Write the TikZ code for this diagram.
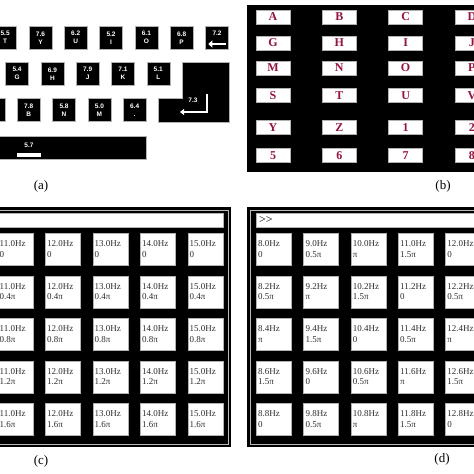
\documentclass[tikz,border=0pt]{standalone}
\usepackage{fontspec}
\setmainfont{Liberation Serif}
\setsansfont{Liberation Sans}
\usetikzlibrary{arrows.meta,positioning}
\definecolor{letterred}{RGB}{150,20,60}
\definecolor{cellink}{RGB}{45,45,45}
\newcommand{\phaselbl}[1]{\ifcase#1 0\or 0.5π\or π\or 1.5π\fi}

\begin{document}
\begin{tikzpicture}[x=1pt, y=-1pt,
    keycap/.style={fill=black, draw=gray!60, line width=0.5pt, minimum width=23pt, minimum height=23pt, inner sep=0pt, anchor=north west, text=white, align=center, font=\sffamily\bfseries\fontsize{6.5}{8}\selectfont},
    keytxt/.style={text=white, inner sep=0pt, font=\sffamily\bfseries\fontsize{6.5}{8}\selectfont},
    lettercell/.style={fill=white, draw=gray!60, line width=0.4pt, minimum width=34pt, minimum height=14pt, inner sep=0pt, text=letterred, font=\bfseries\fontsize{12}{12}\selectfont},
    freqcell/.style={fill=white, draw=gray!60, line width=0.4pt, minimum height=32pt, text width=31pt, inner xsep=2pt, inner ysep=0pt, anchor=north west, align=left, text=cellink, font=\fontsize{9}{10.5}\selectfont},
    panel/.style={fill=black},
    rim/.style={draw=gray!55, line width=0.5pt},
    inbar/.style={fill=white, draw=gray!60, line width=0.4pt, minimum height=14pt, inner sep=0pt, anchor=north west},
    caption/.style={font=\fontsize{13}{13}\selectfont, inner sep=0pt}
]
    \fill[white] (0,0) rectangle (474,474);
    \useasboundingbox (0,0) rectangle (474,474);

    % (a) keyboard
    \foreach \lbl/\ch [count=\i from 0] in {5.5/T,7.6/Y,6.2/U,5.2/I,6.1/O,6.8/P}
        \node[keycap] (k\ch) at (-6.6+35.3*\i,26) {\lbl\\\ch};
    \node[keycap] (kBack) at (205.3,26) {};
    \node[keytxt] (kBackLbl) at ([yshift=-7pt]kBack.north) {7.2};
    \draw[white, line width=2.5pt, -{Triangle[length=4pt,width=7pt]}]
        ([xshift=-3pt,yshift=-18pt]kBack.north east) -- ([xshift=3pt,yshift=-18pt]kBack.north west);

    \foreach \lbl/\ch [count=\i from 0] in {5.4/G,6.9/H,7.9/J,7.1/K,5.1/L}
        \node[keycap] (k\ch) at (5.3+35.3*\i,62) {\lbl\\\ch};

    \node[keycap] (kV) at (-18.3,98) {};
    \foreach \lbl/\ch/\nm [count=\i from 0] in {7.8/B/B,5.8/N/N,5.0/M/M,6.4/./Dot}
        \node[keycap] (k\nm) at (17+35.3*\i,98) {\lbl\\\ch};

    \filldraw[fill=black, draw=gray!60, line width=0.5pt]
        (182,62) -- (229,62) -- (229,122) -- (158,122) -- (158,98) -- (182,98) -- cycle;
    \node[keytxt] (kEnter) at (193,100) {7.3};
    \draw[white, line width=1.8pt, -{Triangle[length=4pt,width=6pt]}]
        (207,94) -- (207,112) -- (180,112);

    \node[keycap, minimum width=156pt] (kSpace) at (-10,136) {};
    \node[keytxt] (kSpaceLbl) at (29,145) {5.7};
    \fill[white] (17,153) rectangle (41,157);

    % (b) letter matrix
    \fill[panel] (247,5) rectangle (490,172);
    \foreach \row/\yc in {{A,B,C,D}/17,{G,H,I,J}/43,{M,N,O,P}/68,{S,T,U,V}/95.5,{Y,Z,1,2}/127.5,{5,6,7,8}/155.5}
        \foreach \ch [count=\i from 0] in \row
            \node[lettercell] (b\ch) at (273+66.3*\i,\yc) {\ch};

    % (c) frequency / phase grid
    \fill[panel] (-10,207) rectangle (231,447);
    \draw[rim] (-10,210) rectangle (228,444);
    \node[inbar, minimum width=225.5pt] (cBar) at (-2.5,213) {};
    \foreach \f [count=\i from 0] in {11,12,13,14,15}
        \foreach \ph [count=\j from 0] in {0,0.4π,0.8π,1.2π,1.6π}
            \node[freqcell] (c\i\j) at (-2.5+47.5*\i,233+42.5*\j) {\f.0Hz\\\ph};

    % (d) frequency / phase grid
    \fill[panel] (247,207) rectangle (490,447);
    \draw[rim] (250,210) rectangle (495,444);
    \node[inbar, minimum width=230pt] (dBar) at (256,213) {};
    \node[anchor=west, inner sep=0pt, font=\fontsize{12}{12}\selectfont] (dPrompt) at ([xshift=3pt]dBar.west) {{>}{>}};
    \foreach \i in {0,...,4}
        \foreach \j in {0,...,4} {
            \pgfmathtruncatemacro\ph{mod(\i+\j,4)}
            \node[freqcell] (d\i\j) at (256+47.3*\i,233+42.5*\j)
                {\the\numexpr8+\i\relax.\the\numexpr2*\j\relax Hz\\\phaselbl{\ph}};
        }

    % captions
    \node[caption] (capA) at (41,186) {(a)};
    \node[caption] (capB) at (443,186) {(b)};
    \node[caption] (capC) at (41,461) {(c)};
    \node[caption] (capD) at (442,459) {(d)};
\end{tikzpicture}
\end{document}
